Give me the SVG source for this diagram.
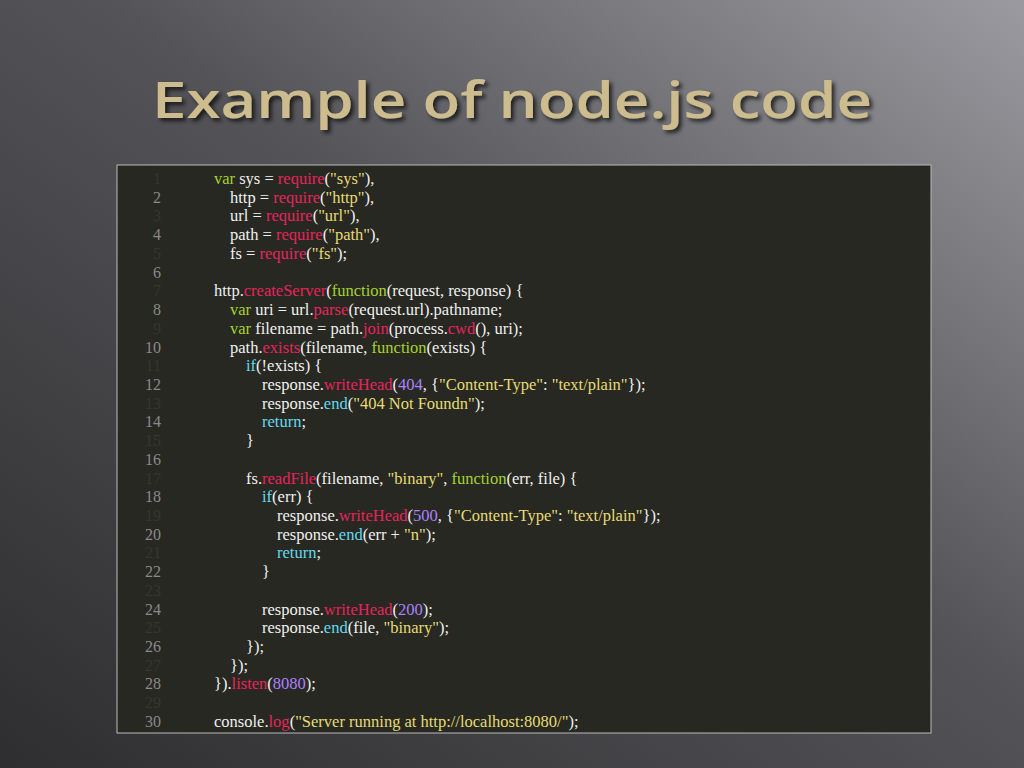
<svg xmlns="http://www.w3.org/2000/svg" width="1024" height="768" viewBox="0 0 1024 768">
<defs>
<linearGradient id="bg" x1="0" y1="1" x2="1" y2="0">
<stop offset="0" stop-color="#2e2e30"/><stop offset="0.55" stop-color="#545458"/><stop offset="1" stop-color="#9a9aa0"/>
</linearGradient>
<filter id="sh"><feDropShadow dx="3" dy="3" stdDeviation="2" flood-color="#000" flood-opacity="0.7"/></filter>
<style>
.c{font-family:"Liberation Serif",serif;font-size:16.5px;fill:#f0f0f0}
.n{font-family:"Liberation Serif",serif;font-size:16px;fill:#8a8a8a;text-anchor:end}
.o{fill:#36362f}
.k{fill:#a6d22e}.r{fill:#e8245c}.s{fill:#e6db74}.m{fill:#ae81ff}.b{fill:#66d9ef}
</style>
</defs>
<rect width="1024" height="768" fill="url(#bg)"/>
<g id="title"><text x="512" y="118" text-anchor="middle" font-family="Open Sans,sans-serif" font-size="50" font-weight="600" fill="#cdbd8e" filter="url(#sh)" textLength="720" lengthAdjust="spacingAndGlyphs">Example of node.js code</text></g>
<g id="code">
<rect x="117" y="165" width="814" height="568" fill="#272822" stroke="#bbb" stroke-width="1"/>
<g class="n">
<text x="161" y="184" class="n o">1</text><text x="161" y="202.7" class="n">2</text><text x="161" y="221.4" class="n o">3</text><text x="161" y="240.2" class="n">4</text><text x="161" y="258.9" class="n o">5</text><text x="161" y="277.6" class="n">6</text><text x="161" y="296.3" class="n o">7</text><text x="161" y="315" class="n">8</text><text x="161" y="333.8" class="n o">9</text><text x="161" y="352.5" class="n">10</text><text x="161" y="371.2" class="n o">11</text><text x="161" y="389.9" class="n">12</text><text x="161" y="408.6" class="n o">13</text><text x="161" y="427.4" class="n">14</text><text x="161" y="446.1" class="n o">15</text><text x="161" y="464.8" class="n">16</text><text x="161" y="483.5" class="n o">17</text><text x="161" y="502.2" class="n">18</text><text x="161" y="521" class="n o">19</text><text x="161" y="539.7" class="n">20</text><text x="161" y="558.4" class="n o">21</text><text x="161" y="577.1" class="n">22</text><text x="161" y="595.8" class="n o">23</text><text x="161" y="614.6" class="n">24</text><text x="161" y="633.3" class="n o">25</text><text x="161" y="652" class="n">26</text><text x="161" y="670.7" class="n o">27</text><text x="161" y="689.4" class="n">28</text><text x="161" y="708.2" class="n o">29</text><text x="161" y="726.9" class="n">30</text>
</g>
<text class="c" x="214" y="184"><tspan class="k">var</tspan> sys = <tspan class="r">require</tspan>(<tspan class="s">"sys"</tspan>),</text>
<text class="c" x="230" y="202.7">http = <tspan class="r">require</tspan>(<tspan class="s">"http"</tspan>),</text>
<text class="c" x="230" y="221.4">url = <tspan class="r">require</tspan>(<tspan class="s">"url"</tspan>),</text>
<text class="c" x="230" y="240.2">path = <tspan class="r">require</tspan>(<tspan class="s">"path"</tspan>),</text>
<text class="c" x="230" y="258.9">fs = <tspan class="r">require</tspan>(<tspan class="s">"fs"</tspan>);</text>
<text class="c" x="214" y="296.3">http.<tspan class="r">createServer</tspan>(<tspan class="k">function</tspan>(request, response) {</text>
<text class="c" x="230" y="315"><tspan class="k">var</tspan> uri = url.<tspan class="r">parse</tspan>(request.url).pathname;</text>
<text class="c" x="230" y="333.8"><tspan class="k">var</tspan> filename = path.<tspan class="r">join</tspan>(process.<tspan class="r">cwd</tspan>(), uri);</text>
<text class="c" x="230" y="352.5">path.<tspan class="r">exists</tspan>(filename, <tspan class="k">function</tspan>(exists) {</text>
<text class="c" x="246" y="371.2"><tspan class="b">if</tspan>(!exists) {</text>
<text class="c" x="262" y="389.9">response.<tspan class="r">writeHead</tspan>(<tspan class="m">404</tspan>, {<tspan class="s">"Content-Type"</tspan>: <tspan class="s">"text/plain"</tspan>});</text>
<text class="c" x="262" y="408.6">response.<tspan class="b">end</tspan>(<tspan class="s">"404 Not Foundn"</tspan>);</text>
<text class="c" x="262" y="427.4"><tspan class="b">return</tspan>;</text>
<text class="c" x="246" y="446.1">}</text>
<text class="c" x="246" y="483.5">fs.<tspan class="r">readFile</tspan>(filename, <tspan class="s">"binary"</tspan>, <tspan class="k">function</tspan>(err, file) {</text>
<text class="c" x="262" y="502.2"><tspan class="b">if</tspan>(err) {</text>
<text class="c" x="277" y="521">response.<tspan class="r">writeHead</tspan>(<tspan class="m">500</tspan>, {<tspan class="s">"Content-Type"</tspan>: <tspan class="s">"text/plain"</tspan>});</text>
<text class="c" x="277" y="539.7">response.<tspan class="b">end</tspan>(err + <tspan class="s">"n"</tspan>);</text>
<text class="c" x="277" y="558.4"><tspan class="b">return</tspan>;</text>
<text class="c" x="262" y="577.1">}</text>
<text class="c" x="262" y="614.6">response.<tspan class="r">writeHead</tspan>(<tspan class="m">200</tspan>);</text>
<text class="c" x="262" y="633.3">response.<tspan class="b">end</tspan>(file, <tspan class="s">"binary"</tspan>);</text>
<text class="c" x="246" y="652">});</text>
<text class="c" x="230" y="670.7">});</text>
<text class="c" x="214" y="689.4">}).<tspan class="r">listen</tspan>(<tspan class="m">8080</tspan>);</text>
<text class="c" x="214" y="726.9">console.<tspan class="r">log</tspan>(<tspan class="s">"Server running at http://localhost:8080/"</tspan>);</text>
</g>
</svg>
